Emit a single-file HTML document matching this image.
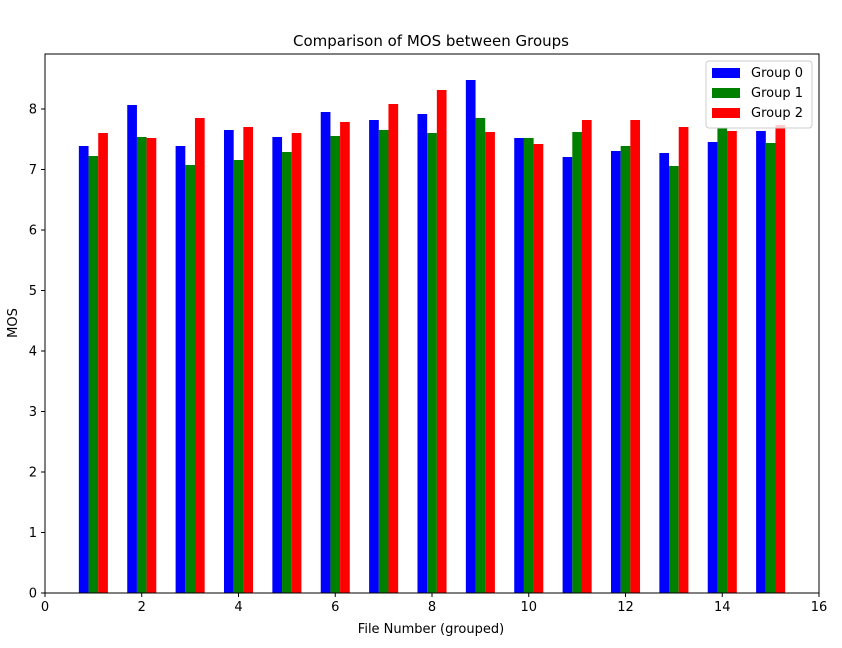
<!DOCTYPE html>
<html><head><meta charset="utf-8"><style>body{margin:0;background:#fff}svg{display:block;font-family:"DejaVu Sans","Liberation Sans",sans-serif}</style></head>
<body>
<svg width="842" height="648" viewBox="0 0 842 648" xmlns="http://www.w3.org/2000/svg">
<rect width="842" height="648" fill="#fff"/>
<g fill="#0000ff">
<rect x="78.86" y="146" width="9.7" height="447"/>
<rect x="127.24" y="105" width="9.7" height="488"/>
<rect x="175.61" y="146" width="9.7" height="447"/>
<rect x="223.99" y="130" width="9.7" height="463"/>
<rect x="272.36" y="137" width="9.7" height="456"/>
<rect x="320.74" y="112" width="9.7" height="481"/>
<rect x="369.11" y="120" width="9.7" height="473"/>
<rect x="417.49" y="114" width="9.7" height="479"/>
<rect x="465.86" y="80" width="9.7" height="513"/>
<rect x="514.24" y="138" width="9.7" height="455"/>
<rect x="562.61" y="157" width="9.7" height="436"/>
<rect x="610.99" y="151" width="9.7" height="442"/>
<rect x="659.36" y="153" width="9.7" height="440"/>
<rect x="707.74" y="142" width="9.7" height="451"/>
<rect x="756.11" y="131" width="9.7" height="462"/>
</g>
<g fill="#008000">
<rect x="88.54" y="156" width="9.7" height="437"/>
<rect x="136.92" y="137" width="9.7" height="456"/>
<rect x="185.29" y="165" width="9.7" height="428"/>
<rect x="233.67" y="160" width="9.7" height="433"/>
<rect x="282.04" y="152" width="9.7" height="441"/>
<rect x="330.42" y="136" width="9.7" height="457"/>
<rect x="378.79" y="130" width="9.7" height="463"/>
<rect x="427.17" y="133" width="9.7" height="460"/>
<rect x="475.54" y="118" width="9.7" height="475"/>
<rect x="523.92" y="138" width="9.7" height="455"/>
<rect x="572.29" y="132" width="9.7" height="461"/>
<rect x="620.67" y="146" width="9.7" height="447"/>
<rect x="669.04" y="166" width="9.7" height="427"/>
<rect x="717.42" y="128" width="9.7" height="465"/>
<rect x="765.79" y="143" width="9.7" height="450"/>
</g>
<g fill="#ff0000">
<rect x="98.21" y="133" width="9.7" height="460"/>
<rect x="146.59" y="138" width="9.7" height="455"/>
<rect x="194.96" y="118" width="9.7" height="475"/>
<rect x="243.34" y="127" width="9.7" height="466"/>
<rect x="291.71" y="133" width="9.7" height="460"/>
<rect x="340.09" y="122" width="9.7" height="471"/>
<rect x="388.46" y="104" width="9.7" height="489"/>
<rect x="436.84" y="90" width="9.7" height="503"/>
<rect x="485.21" y="132" width="9.7" height="461"/>
<rect x="533.59" y="144" width="9.7" height="449"/>
<rect x="581.96" y="120" width="9.7" height="473"/>
<rect x="630.34" y="120" width="9.7" height="473"/>
<rect x="678.71" y="127" width="9.7" height="466"/>
<rect x="727.09" y="131" width="9.7" height="462"/>
<rect x="775.46" y="125" width="9.7" height="468"/>
</g>
<rect x="45" y="54" width="774" height="539" fill="none" stroke="#000" stroke-width="1"/>
<g stroke="#000">
<line x1="45" y1="593" x2="45" y2="597"/><line x1="141.75" y1="593" x2="141.75" y2="597"/><line x1="238.5" y1="593" x2="238.5" y2="597"/><line x1="335.25" y1="593" x2="335.25" y2="597"/><line x1="432" y1="593" x2="432" y2="597"/><line x1="528.75" y1="593" x2="528.75" y2="597"/><line x1="625.5" y1="593" x2="625.5" y2="597"/><line x1="722.25" y1="593" x2="722.25" y2="597"/><line x1="819" y1="593" x2="819" y2="597"/>
<line x1="41" y1="593" x2="45" y2="593"/><line x1="41" y1="532.5" x2="45" y2="532.5"/><line x1="41" y1="472" x2="45" y2="472"/><line x1="41" y1="411.5" x2="45" y2="411.5"/><line x1="41" y1="351" x2="45" y2="351"/><line x1="41" y1="290.5" x2="45" y2="290.5"/><line x1="41" y1="230" x2="45" y2="230"/><line x1="41" y1="169.5" x2="45" y2="169.5"/><line x1="41" y1="109" x2="45" y2="109"/>
</g>
<g font-size="13" text-anchor="middle">
<text x="45" y="611">0</text><text x="141.75" y="611">2</text><text x="238.5" y="611">4</text><text x="335.25" y="611">6</text><text x="432" y="611">8</text><text x="528.75" y="611">10</text><text x="625.5" y="611">12</text><text x="722.25" y="611">14</text><text x="819" y="611">16</text>
</g>
<g font-size="13" text-anchor="end">
<text x="37" y="597.5">0</text><text x="37" y="537">1</text><text x="37" y="476.5">2</text><text x="37" y="416">3</text><text x="37" y="355.5">4</text><text x="37" y="295">5</text><text x="37" y="234.5">6</text><text x="37" y="174">7</text><text x="37" y="113.5">8</text>
</g>
<text x="431" y="46" font-size="15" text-anchor="middle">Comparison of MOS between Groups</text>
<text x="431" y="633" font-size="13" text-anchor="middle">File Number (grouped)</text>
<text x="17" y="323" font-size="13" text-anchor="middle" transform="rotate(-90 17 323)">MOS</text>
<rect x="706" y="61" width="106" height="67" fill="#fff" fill-opacity="0.8" stroke="#ccc" rx="3"/>
<rect x="712" y="68" width="28" height="10" fill="#0000ff"/>
<text x="751" y="77" font-size="13">Group 0</text>
<rect x="712" y="88" width="28" height="10" fill="#008000"/>
<text x="751" y="97" font-size="13">Group 1</text>
<rect x="712" y="108" width="28" height="10" fill="#ff0000"/>
<text x="751" y="117" font-size="13">Group 2</text>
</svg>
</body></html>
